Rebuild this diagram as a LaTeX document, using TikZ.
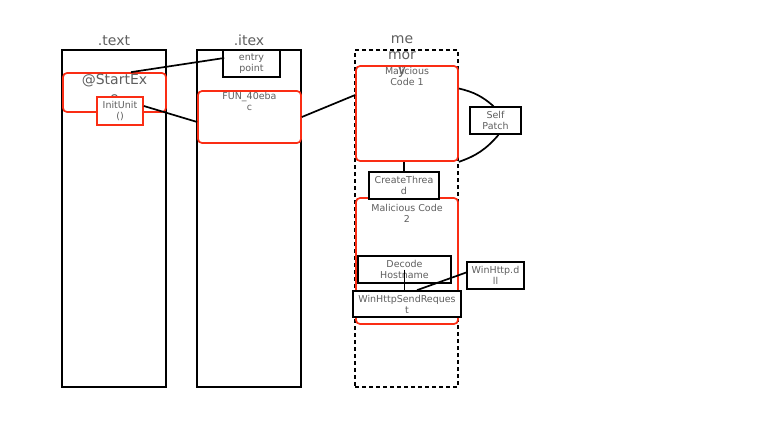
\documentclass[tikz,border=0pt]{standalone}
\usepackage{fontspec}
\setmainfont{DejaVu Sans}
\definecolor{grpred}{RGB}{250,45,20}
\definecolor{txtgray}{RGB}{95,95,95}

\begin{document}
\begin{tikzpicture}[x=1pt, y=-1pt,
  col/.style={draw, line width=1.7pt, minimum width=104pt, minimum height=337pt, inner sep=0pt},
  ttl/.style={text=txtgray, font=\fontsize{14}{15.5}\selectfont, align=center},
  grp/.style={draw=grpred, line width=1.7pt, rounded corners=4pt, inner sep=0pt},
  gt/.style={text=txtgray, font=\fontsize{9.5}{11}\selectfont, align=center, anchor=north, inner sep=2pt},
  bx/.style={draw, line width=1.7pt, fill=white, align=center, inner sep=0pt,
             text=txtgray, font=\fontsize{9.5}{11}\selectfont},
  ln/.style={line width=1.7pt}]
\useasboundingbox (0,0) rectangle (768,432);
% sections
\node[col, label={[ttl]above:.text}] (txt) at (114,218.5) {};
\node[col, label={[ttl]above:.itex}] (itx) at (249,218.5) {};
\node[col, dash pattern=on 4pt off 3pt, minimum width=103pt] (mem) at (406.5,218.5) {};
\node[ttl] (memttl) at (402,57) {me\\mor\\y};
% red groups
\node[grp, minimum width=103pt, minimum height=39pt,
  label={[gt, font=\fontsize{14}{17.5}\selectfont]north:@StartEx\\e}] (start) at (114.5,92.5) {};
\node[grp, minimum width=103pt, minimum height=52pt, label={[gt]north:FUN\_40eba\\c}] (fun) at (249.5,117) {};
\node[grp, minimum width=102pt, minimum height=95pt, label={[gt]north:Malicious\\Code 1}] (mc1) at (407,113.5) {};
\node[grp, minimum width=102pt, minimum height=126pt,
  label={[gt, inner sep=7pt]north:Malicious Code\\2}] (mc2) at (407,261) {};
% boxes
\node[bx, draw=grpred, minimum width=46pt, minimum height=28pt] (init) at (120,111) {InitUnit\\()};
\node[bx, minimum width=57pt, minimum height=27pt] (entry) at (251.5,63.5) {entry\\point};
\node[bx, minimum width=51pt, minimum height=27pt] (patch) at (495.5,120.5) {Self\\Patch};
\node[bx, minimum width=70pt, minimum height=27pt] (ct) at (404,185.5) {CreateThrea\\d};
\node[bx, minimum width=93pt, minimum height=27pt] (dec) at (404.5,269.5) {Decode\\Hostname};
\node[bx, minimum width=108pt, minimum height=26pt] (send) at (407,304) {WinHttpSendReques\\t};
\node[bx, minimum width=57pt, minimum height=27pt] (dll) at (495.5,275.5) {WinHttp.d\\ll};
% links
\draw[ln] ([xshift=16.5pt]start.north) -- ([xshift=2pt,yshift=5.5pt]entry.west);
\draw[ln] ([yshift=5pt]init.east) -- ([yshift=-5pt]fun.west);
\draw[ln] (fun.east) -- ([yshift=18.5pt]mc1.west);
\draw[ln] ([yshift=25pt]mc1.east) to[bend left=14] ([xshift=-2pt]patch.north);
\draw[ln] ([xshift=3pt]patch.south) to[bend left=15] (mc1.south east);
\draw[ln] (ct.north |- mc1.south) -- (ct.north);
\draw[ln] (dec.center) -- (dec.center |- send.north);
\draw[ln] ([yshift=3pt]dll.west) -- ([xshift=10pt]send.north);
\end{tikzpicture}
\end{document}
